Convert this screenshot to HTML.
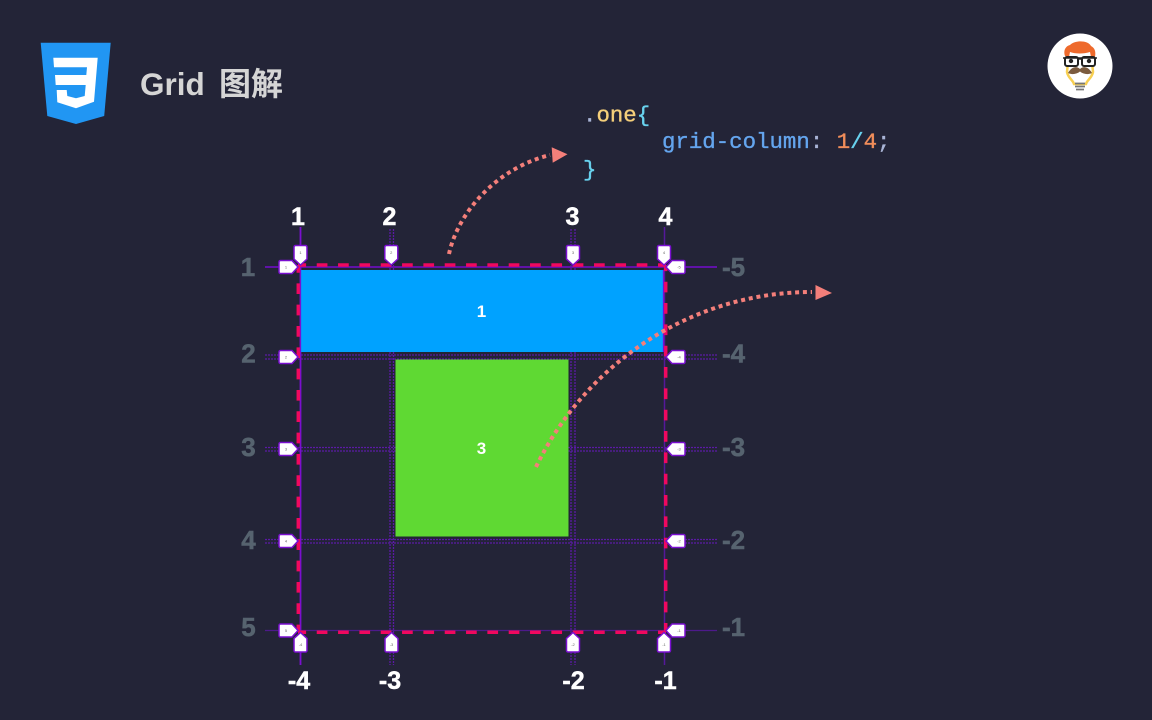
<!DOCTYPE html>
<html><head><meta charset="utf-8"><style>
html,body{margin:0;padding:0;background:#232437;width:1152px;height:720px;overflow:hidden}
svg{display:block}
.n{font-family:"Liberation Sans",sans-serif;font-weight:700;text-anchor:middle;stroke-width:.5px}
.w{fill:#fff;stroke:#fff;font-size:25px}
.g{fill:#56636f;stroke:#56636f;font-size:26px}
.c{font-family:"Liberation Mono",monospace;font-size:22.4px;stroke-width:.35px;paint-order:stroke}
.t{fill:#fff;stroke:#7a0fd0;stroke-width:1.5}
.s{font-family:"Liberation Sans",sans-serif;font-size:4px;fill:#666;text-anchor:middle}
</style></head><body>
<svg width="1152" height="720" viewBox="0 0 1152 720" xmlns="http://www.w3.org/2000/svg">
<rect width="1152" height="720" fill="#232437"/>
<!-- css logo -->
<polygon points="40.700,42.700 110.700,42.700 104.200,116 76,124 47.300,116" fill="#2196f3"/>
<polygon points="53.300,57.700 97.700,57.700 94,101.700 76,108.300 57.300,102.300 56.700,90 66.700,90 67.300,96 76,98.300 84.700,96 85.700,85 55.700,85 55,75 86.300,75 87,67.300 54,67.300" fill="#fff"/>
<text x="140" y="95" style="font-family:'Liberation Sans',sans-serif;font-size:31.500px;font-weight:700" fill="#d5d5d5">Grid</text>
<text x="219" y="95" style="font-family:'Noto Sans CJK SC',sans-serif;font-size:32px;font-weight:700" fill="#d5d5d5">图解</text>
<!-- avatar -->
<circle cx="1080" cy="66" r="32.500" fill="#fff"/>
<path d="M1068 62 L1067 72 C1068 78 1073 80 1074 84 L1086 84 C1087 80 1092 78 1093 72 L1092 62" fill="#fff" stroke="#f7cf52" stroke-width="2.500"/>
<path d="M1065 56 C1063 50 1066 46 1070 45 C1075 40 1088 40 1091 46 C1095 48 1096 52 1095 57 L1091 57 L1090 52 C1084 54 1075 54 1070 52 L1069 57 Z" fill="#ee6a2c"/>
<rect x="1065" y="57" width="13" height="9" rx="2" fill="#fff" stroke="#222" stroke-width="2"/>
<rect x="1082" y="57" width="13" height="9" rx="2" fill="#fff" stroke="#222" stroke-width="2"/>
<path d="M1063 58H1097M1078 59h4" stroke="#222" stroke-width="1.500"/>
<circle cx="1071" cy="61" r="2.200" fill="#222"/><circle cx="1089" cy="61" r="2.200" fill="#222"/>
<path d="M1068 73 C1072 66 1077 66 1080 69 C1083 66 1088 66 1092 73 C1088 75 1083 74 1080 71.500 C1077 74 1072 75 1068 73 Z" fill="#7b5b3e"/>
<path d="M1075 83.500 h10 M1075 86.500 h10 M1076 89.500 h8" stroke="#777" stroke-width="1.800"/>
<!-- code -->
<text class="c" y="121.500"><tspan x="583" fill="#a9b4d6" stroke="#a9b4d6">.</tspan><tspan fill="#f5cf7a" stroke="#f5cf7a">one</tspan><tspan fill="#68d2ee" stroke="#68d2ee">{</tspan></text>
<text class="c" y="148"><tspan x="662" fill="#64a5ee" stroke="#64a5ee">grid-column</tspan><tspan fill="#a9b4d6" stroke="#a9b4d6">: </tspan><tspan fill="#f08d5a" stroke="#f08d5a">1</tspan><tspan fill="#68d2ee" stroke="#68d2ee">/</tspan><tspan fill="#f08d5a" stroke="#f08d5a">4</tspan><tspan fill="#a9b4d6" stroke="#a9b4d6">;</tspan></text>
<text class="c" y="176" x="583" fill="#68d2ee" stroke="#68d2ee">}</text>
<!-- grid lines -->
<g fill="none" stroke="#5b1aa5">
<g stroke-width="1.300" stroke-dasharray="2 1">
<path d="M265 355H717M265 359H717M265 447.500H717M265 451H717M265 539.500H717M265 543H717"/>
<path d="M390 229V665M393.500 229V665M571 229V665M575 229V665"/>
</g>
<path d="M265 267H717" stroke="#6a10b8" stroke-width="1.800"/>
<path d="M265 630.500H717" stroke="#4d1a8a" stroke-width="1.200"/>
<path d="M300.500 227V665" stroke="#7a0fd0" stroke-width="1.800"/>
<path d="M664.500 227V665" stroke="#55189a" stroke-width="1.500"/>
</g>
<!-- items -->
<rect x="301" y="270" width="362" height="82" fill="#00a2ff"/>
<rect x="395.500" y="359.500" width="173" height="177" fill="#5fd933"/>
<text x="481.500" y="317" style="font-family:'Liberation Sans',sans-serif;font-size:17px;font-weight:700;text-anchor:middle" fill="#fff">1</text>
<text x="481.500" y="454" style="font-family:'Liberation Sans',sans-serif;font-size:17px;font-weight:700;text-anchor:middle" fill="#fff">3</text>
<!-- dashed rect -->
<g fill="none" stroke="#f0085f" stroke-width="3.500" stroke-dasharray="10.700 10.630">
<path d="M298 265H666" stroke-dashoffset="2.600"/>
<path d="M298 632.300H666" stroke-dashoffset="2.600"/>
<path d="M298.300 265V632" stroke-dashoffset="3"/>
<path d="M665.700 265V632" stroke-dashoffset="4.600"/>
</g>
<path d="M300.500 270V352M663.500 270V352" stroke="#7a0fd0" stroke-width="1.300"/>
<!-- numbers -->
<text class="n w" x="298" y="225">1</text><text class="n w" x="389.500" y="225">2</text><text class="n w" x="572.500" y="225">3</text><text class="n w" x="665.500" y="225">4</text>
<text class="n w" x="299" y="689">-4</text><text class="n w" x="390" y="689">-3</text><text class="n w" x="573.500" y="689">-2</text><text class="n w" x="665.500" y="689">-1</text>
<text class="n g" x="248" y="276">1</text><text class="n g" x="248.500" y="362.500">2</text><text class="n g" x="248.500" y="456">3</text><text class="n g" x="248.500" y="549">4</text><text class="n g" x="248.500" y="636">5</text>
<text class="n g" x="733.500" y="276">-5</text><text class="n g" x="733.500" y="362.500">-4</text><text class="n g" x="733.500" y="456">-3</text><text class="n g" x="733.500" y="549">-2</text><text class="n g" x="733.500" y="636">-1</text>
<!-- tags -->
<defs>
<path id="d" d="M-6.500 -18a1.500 1.500 0 0 1 1.500 -1.500h10a1.500 1.500 0 0 1 1.500 1.500V-6L0 0L-6.500 -6Z" class="t"/>
<path id="u" d="M-6.500 18a1.500 1.500 0 0 0 1.500 1.500h10a1.500 1.500 0 0 0 1.500 -1.500V6L0 0L-6.500 6Z" class="t"/>
<path id="r" d="M-17.500 -6.500a1.500 1.500 0 0 0 -1.500 1.500v10a1.500 1.500 0 0 0 1.500 1.500H-6L0 0L-6 -6.500Z" class="t"/>
<path id="l" d="M17.500 -6.500a1.500 1.500 0 0 1 1.500 1.500v10a1.500 1.500 0 0 1 -1.500 1.500H6L0 0L6 -6.500Z" class="t"/>
</defs>
<use href="#d" x="300.500" y="265"/><use href="#d" x="391.300" y="265"/><use href="#d" x="573" y="265"/><use href="#d" x="664" y="265"/>
<use href="#u" x="300.500" y="632.500"/><use href="#u" x="391.500" y="632.500"/><use href="#u" x="573" y="632.500"/><use href="#u" x="664" y="632.500"/>
<use href="#r" x="298" y="267"/><use href="#r" x="298" y="357"/><use href="#r" x="298" y="449"/><use href="#r" x="298" y="541"/><use href="#r" x="298" y="630.500"/>
<use href="#l" x="666" y="267"/><use href="#l" x="666" y="357"/><use href="#l" x="666" y="449"/><use href="#l" x="666" y="541"/><use href="#l" x="666" y="630.500"/>
<text class="s" x="300.500" y="254">1</text><text class="s" x="391.300" y="254">2</text><text class="s" x="573" y="254">3</text><text class="s" x="664" y="254">4</text>
<text class="s" x="300.500" y="646">-4</text><text class="s" x="391.500" y="646">-3</text><text class="s" x="573" y="646">-2</text><text class="s" x="664" y="646">-1</text>
<text class="s" x="286" y="268.500">1</text><text class="s" x="286" y="358.500">2</text><text class="s" x="286" y="450.500">3</text><text class="s" x="286" y="542.500">4</text><text class="s" x="286" y="632">5</text>
<text class="s" x="679" y="268.500">-5</text><text class="s" x="679" y="358.500">-4</text><text class="s" x="679" y="450.500">-3</text><text class="s" x="679" y="542.500">-2</text><text class="s" x="679" y="632">-1</text>
<!-- arrows -->
<g fill="none" stroke="#f47f7a" stroke-width="4" stroke-dasharray="4 3.800">
<path d="M449 254C458 212 497 168 550 155"/>
<path d="M536 467C585 365 690 292 812 292"/>
</g>
<polygon points="551.700,147.300 567.500,154.300 552.700,162.700" fill="#f47f7a"/>
<polygon points="815.500,285 832,293 815.500,300" fill="#f47f7a"/>
</svg>
</body></html>
